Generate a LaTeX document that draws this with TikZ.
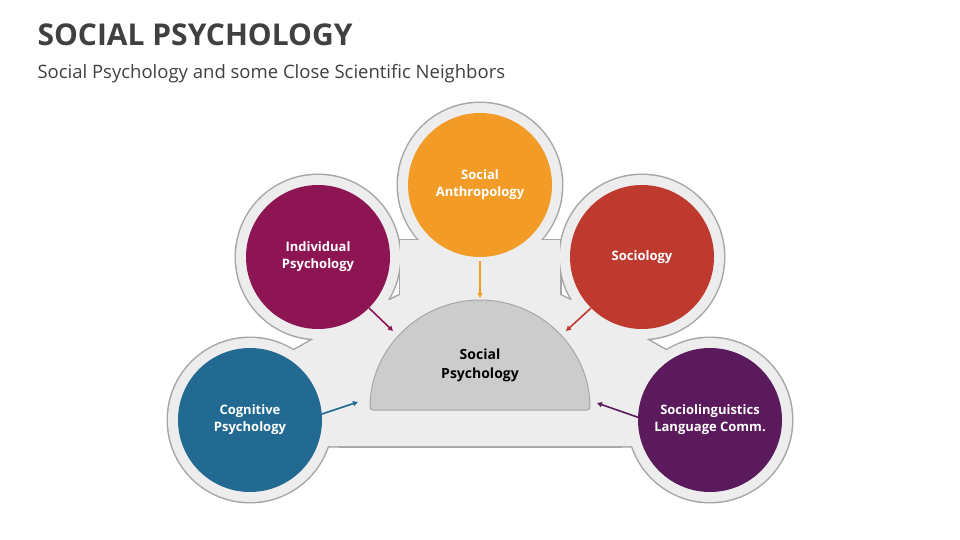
\documentclass[tikz,border=0pt]{standalone}
\usepackage{fontspec}
\setmainfont{Open Sans}
\usetikzlibrary{arrows.meta}
\definecolor{cog}{HTML}{236A93}
\definecolor{ind}{HTML}{8E1553}
\definecolor{ant}{HTML}{F29C27}
\definecolor{soc}{HTML}{BE3A2F}
\definecolor{lin}{HTML}{5A1A5B}
\definecolor{bgg}{HTML}{EDEDED}
\definecolor{edge}{HTML}{A6A6A6}
\tikzset{
 disc/.style={circle,minimum size=144pt,inner sep=0pt,text=white,font=\fontsize{13}{17}\selectfont\bfseries,align=center},
 arr/.style={-{Triangle[length=5pt,width=5pt]},line width=1.6pt}
}
\begin{document}
\begin{tikzpicture}[x=1pt,y=-1pt]
\useasboundingbox (0,0) rectangle (960,540);
\def\blobshape{
 \path (250,420) circle (82);
 \path (318,257) circle (82);
 \path (480,185) circle (82);
 \path (642,257) circle (82);
 \path (710,420) circle (82);
 \path[rounded corners=20pt] (250,375) -- (330,330) -- (420,285) -- (540,285) -- (630,330) -- (710,375) -- (710,446) -- (250,446) -- cycle;
 \path (400,240) rectangle (560,300);
 \path (340,300) rectangle (620,446);
}
\begin{scope}[every path/.style={draw=edge,line width=3pt}]\blobshape\end{scope}
\begin{scope}[every path/.style={fill=bgg}]\blobshape\end{scope}
\draw[fill=black!20,draw=edge,line width=1pt,rounded corners=3pt] (370,410) arc[start angle=180,end angle=360,radius=110] -- cycle;
\node[font=\fontsize{14}{19}\selectfont\bfseries,align=center] (sp) at (480,365) {Social\\Psychology};
\node[disc,fill=cog] (c) at (250,420) {Cognitive\\Psychology};
\node[disc,fill=ind] (i) at (318,257) {Individual\\Psychology};
\node[disc,fill=ant] (a) at (480,185) {Social\\Anthropology};
\node[disc,fill=soc] (s) at (642,257) {Sociology};
\node[disc,fill=lin] (l) at (710,420) {Sociolinguistics\\Language Comm.};
\coordinate (ti) at (393,331); \coordinate (ta) at (480,298);
\coordinate (ts) at (566,331); \coordinate (tc) at (358,402); \coordinate (tl) at (597,403);
\draw[arr,ind] (i.-45) -- (ti);
\draw[arr,ant] (a.south) ++(0,4) -- (ta);
\draw[arr,soc] (s.-135) -- (ts);
\draw[arr,cog] (322,414) -- (tc);
\draw[arr,lin] (640,418) -- (tl);
\node[anchor=west,font=\fontsize{30}{34}\selectfont\bfseries,text=black!75] (t) at (34,35) {SOCIAL PSYCHOLOGY};
\node[anchor=west,font=\fontsize{18.5}{22}\selectfont,text=black!75] (st) at (34,74) {Social Psychology and some Close Scientific Neighbors};
\end{tikzpicture}
\end{document}
